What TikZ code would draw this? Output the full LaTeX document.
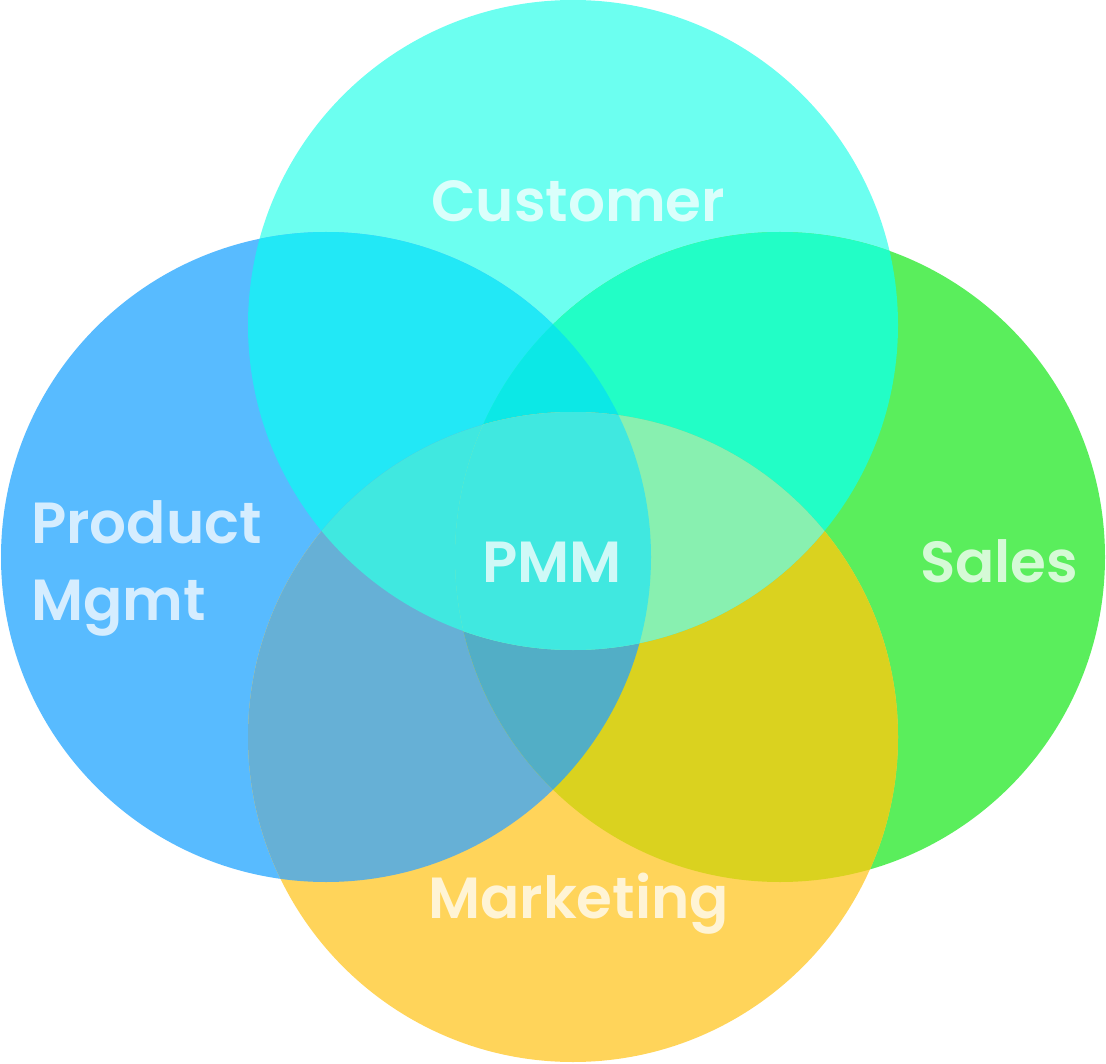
\documentclass[tikz,border=0pt]{standalone}
\usepackage{fontspec}
\setmainfont{Poppins}[Ligatures=NoCommon, BoldFont={Poppins SemiBold}]
\definecolor{cC}{HTML}{6CFFF0}
\definecolor{cP}{HTML}{58BBFF}
\definecolor{cS}{HTML}{5AEE5C}
\definecolor{cM}{HTML}{FFD45A}
\definecolor{cCP}{HTML}{22E8F6}
\definecolor{cCS}{HTML}{22FEC6}
\definecolor{cCPS}{HTML}{0CE8E6}
\definecolor{cCM}{HTML}{40E8E0}
\definecolor{cCMS}{HTML}{88F0B0}
\definecolor{cMP}{HTML}{66B0D6}
\definecolor{cMS}{HTML}{DAD21F}
\definecolor{cMPS}{HTML}{52AEC6}
\tikzset{
  lbl/.style={text=white, text opacity=0.75, font=\fontsize{58}{62}\selectfont\bfseries, inner sep=0pt, anchor=base west},
}
\newcommand{\circC}{(573,325) circle[radius=325]}
\newcommand{\circP}{(326,557) circle[radius=325]}
\newcommand{\circS}{(780,557) circle[radius=325]}
\newcommand{\circM}{(573,737) circle[radius=325]}
\begin{document}
\begin{tikzpicture}[x=1pt,y=-1pt]
\useasboundingbox (0,0) rectangle (1106,1064);
% base circles
\fill[cC] \circC;
\fill[cP] \circP;
\fill[cS] \circS;
\fill[cM] \circM;
% pairwise / triple overlaps
\begin{scope}\clip \circP; \fill[cCP] \circC; \end{scope}
\begin{scope}\clip \circS; \fill[cCS] \circC; \end{scope}
\begin{scope}\clip \circP; \clip \circS; \fill[cCPS] \circC; \end{scope}
\begin{scope}\clip \circM; \fill[cMP] \circP; \end{scope}
\begin{scope}\clip \circM; \fill[cMS] \circS; \end{scope}
\begin{scope}\clip \circM; \clip \circP; \fill[cMPS] \circS; \end{scope}
\begin{scope}\clip \circC; \fill[cCM] \circM; \end{scope}
\begin{scope}\clip \circC; \clip \circM; \fill[cCMS] \circS; \end{scope}
\begin{scope}\clip \circC; \clip \circM; \clip \circP; \fill[cCM] \circS; \end{scope}
% labels
\node[lbl] (customer) at (431,222) {Customer};
\node[lbl] (product) at (31,543) {Product};
\node[lbl] (mgmt) at (31,620) {Mgmt};
\node[lbl] (sales) at (920,582) {Sales};
\node[lbl] (marketing) at (428,918) {Marketing};
\node[lbl] (pmm) at (482,582) {PMM};
\end{tikzpicture}
\end{document}
